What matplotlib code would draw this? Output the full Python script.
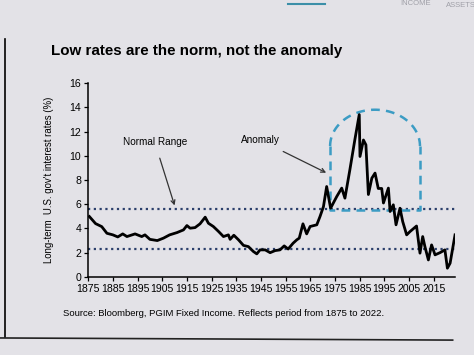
import numpy as np
import matplotlib.pyplot as plt
from matplotlib.lines import Line2D

plt.rcParams['font.family'] = ['Liberation Sans', 'DejaVu Sans']

# long-term US government rates (year, %)
years = [1875.5, 1878, 1880.5, 1882.6, 1885, 1887, 1889, 1890.7, 1894, 1896.7,
         1898, 1900, 1903, 1905.5, 1908, 1911, 1913.6, 1915, 1916.3, 1918.3,
         1920.3, 1922.4, 1923.7, 1925.7, 1927.8, 1929.8, 1931.8, 1932.5, 1934,
         1935.9, 1937.9, 1939.9, 1941.9, 1943.3, 1944.6, 1946.7, 1948.7, 1950.7,
         1952.7, 1954.4, 1956, 1958, 1959.5, 1960.5, 1962, 1963.5, 1964.9,
         1967.6, 1968.9, 1970.3, 1971.6, 1973.2, 1975.7, 1977.7, 1979, 1981,
         1983, 1984.8, 1985.1, 1986.5, 1987.5, 1988.5, 1989.9, 1991.2, 1992.5,
         1993.9, 1994.6, 1996.6, 1997.3, 1998.6, 1999.7, 2001.3, 2002.4, 2004,
         2005.4, 2008, 2009.4, 2010.5, 2011.4, 2012.8, 2014.1, 2015.5, 2017.5,
         2019.5, 2020.5, 2021.6, 2023.6]
rates = [4.98, 4.4, 4.15, 3.6, 3.47, 3.3, 3.55, 3.33, 3.55, 3.33,
         3.47, 3.1, 3.0, 3.2, 3.47, 3.66, 3.88, 4.24, 4.02, 4.07,
         4.38, 4.93, 4.43, 4.16, 3.75, 3.33, 3.47, 3.1, 3.44,
         3.06, 2.6, 2.5, 2.1, 1.9, 2.23, 2.23, 2.0, 2.17,
         2.23, 2.56, 2.3, 2.78, 3.06, 3.2, 4.38, 3.55, 4.16,
         4.3, 4.98, 5.8, 7.46, 5.67, 6.64, 7.33, 6.5, 8.84,
         11.3, 13.4, 9.94, 11.3, 10.9, 6.8, 8.15, 8.57, 7.3,
         7.3, 6.1, 7.33, 5.4, 5.95, 4.3, 5.67, 4.57, 3.47,
         3.75, 4.2, 1.96, 3.33, 2.5, 1.4, 2.64, 1.82, 2.0,
         2.23, 0.72, 1.13, 3.47]

tick_years = list(range(1875, 2016, 10))
tick_labels = [str(y) for y in tick_years]
normal_hi, normal_lo = 5.6, 2.3
anomaly_left, anomaly_right = 1973.0, 2009.4
anomaly_bottom, anomaly_shoulder, anomaly_top = 5.5, 10.8, 13.8

bg = '#e3e2e7'
fig = plt.figure(figsize=(4.74, 3.55), dpi=100, facecolor=bg)
ax = fig.add_axes([0.186, 0.22, 0.774, 0.546])
ax.set_facecolor(bg)

ax.plot(years, rates, color='black', lw=2.0, zorder=3)

# normal range
for v in [normal_hi, normal_lo]:
    ax.axhline(v, color='#2c3f6b', lw=1.6, ls=(0, (1, 1.6)), zorder=2)

# anomaly outline: box with a rounded top
cyan = '#3c9cc4'
dash = (0, (3.5, 2.5))
ax.plot([anomaly_left, anomaly_left, anomaly_right, anomaly_right],
        [anomaly_shoulder, anomaly_bottom, anomaly_bottom, anomaly_shoulder],
        color=cyan, lw=1.8, ls=dash, zorder=2)
t = np.linspace(np.pi, 0, 60)
cx = (anomaly_left + anomaly_right) / 2
ax.plot(cx + (anomaly_right - cx) * np.cos(t),
        anomaly_shoulder + (anomaly_top - anomaly_shoulder) * np.sin(t),
        color=cyan, lw=1.8, ls=dash, zorder=2)

ax.annotate('Normal Range', xy=(1910, 5.9), xytext=(1902, 11.1),
            ha='center', va='center', fontsize=7.2,
            arrowprops=dict(arrowstyle='->', color='#333333', lw=0.9,
                            shrinkA=6, shrinkB=0))
ax.annotate('Anomaly', xy=(1971.4, 8.6), xytext=(1944.6, 11.3),
            ha='center', va='center', fontsize=7.2,
            arrowprops=dict(arrowstyle='->', color='#333333', lw=0.9,
                            shrinkA=6, shrinkB=0))

ax.set_xlim(1875, 2023.6)
ax.set_ylim(0, 16)
ax.set_yticks(range(0, 17, 2))
ax.set_xticks(tick_years)
ax.set_xticklabels(tick_labels)
ax.tick_params(axis='both', direction='out', length=3, width=0.9,
               labelsize=7.6, colors='black', pad=2)
for s in ['top', 'right']:
    ax.spines[s].set_visible(False)
for s in ['left', 'bottom']:
    ax.spines[s].set_linewidth(1.1)
ax.set_ylabel("Long-term  U.S. gov't interest rates (%)", fontsize=6.9,
              labelpad=11)

fig.text(0.108, 0.855, 'Low rates are the norm, not the anomaly',
         fontsize=10.9, fontweight='bold', ha='left', va='center')
fig.text(0.133, 0.118,
         'Source: Bloomberg, PGIM Fixed Income. Reflects period from 1875 to 2022.',
         fontsize=6.8, ha='left', va='center')

# slide edges from the photo
fig.add_artist(Line2D([0.011, 0.011], [0.05, 0.89], color='black', lw=1.2))
fig.add_artist(Line2D([0.0, 0.955], [0.048, 0.042], color='#222222', lw=1.2))
fig.add_artist(Line2D([0.608, 0.686], [0.988, 0.988], color='#3c8fa8', lw=1.5))
fig.text(0.845, 0.99, 'INCOME', fontsize=5.5, color='#a0a0a8', ha='left', va='center')
fig.text(0.94, 0.985, 'ASSETS', fontsize=5.5, color='#a0a0a8', ha='left', va='center')

fig.savefig('out.png', dpi=100, facecolor=bg)
